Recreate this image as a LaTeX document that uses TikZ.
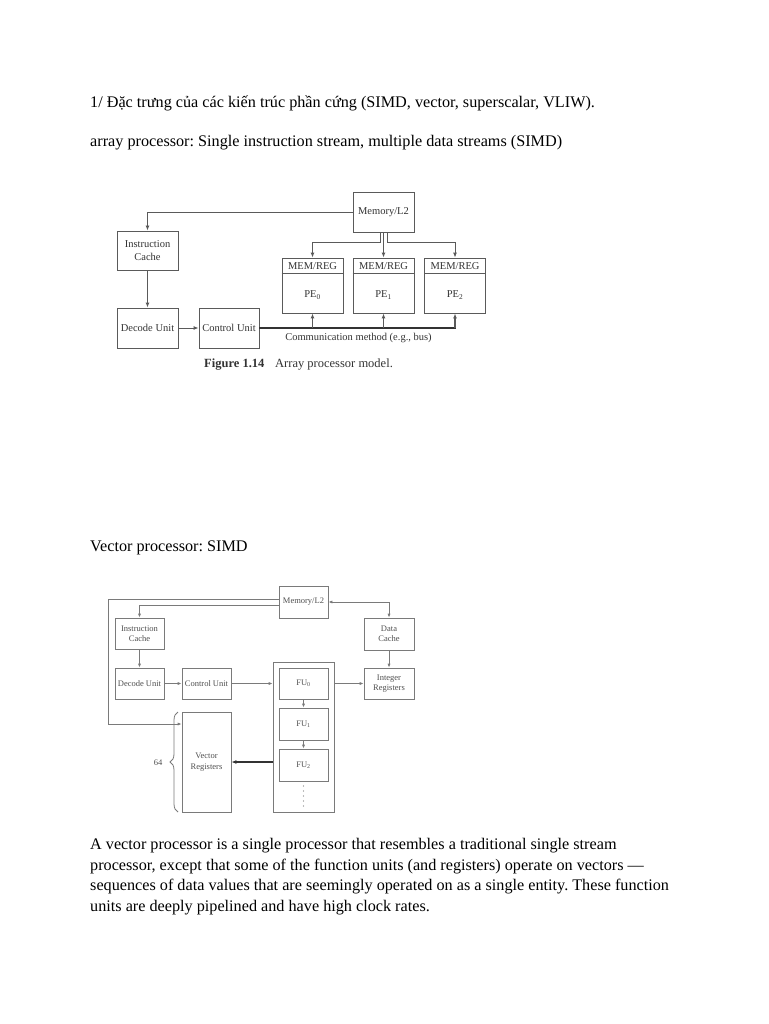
\documentclass[tikz,border=0pt]{standalone}
\usepackage{fontspec}
\setmainfont{Liberation Serif}
\usetikzlibrary{arrows.meta,decorations.pathreplacing,calc}
\newcommand\fsz[2]{\fontsize{#1}{#2}\selectfont}
\definecolor{linea}{HTML}{5A5A5A}
\definecolor{texta}{HTML}{333333}
\definecolor{lineb}{HTML}{7A7A7A}
\definecolor{textb}{HTML}{505050}
\tikzset{
  boxa/.style={draw=linea, line width=0.9pt, inner sep=0pt, align=center, font=\fsz{10.5}{13}, text=texta},
  boxb/.style={draw=lineb, line width=0.8pt, inner sep=0pt, align=center, font=\fsz{8.5}{10.5}, text=textb},
  arra/.style={draw=linea, line width=0.9pt, -{Latex[length=5pt,width=4pt]}},
  arrb/.style={draw=lineb, line width=0.8pt, -{Latex[length=4pt,width=3.2pt]}},
  arrbb/.style={draw=lineb, line width=0.8pt, {Latex[length=4pt,width=3.2pt]}-{Latex[length=4pt,width=3.2pt]}},
  lbla/.style={inner sep=0pt, font=\fsz{10.5}{13}, text=texta},
  lblb/.style={inner sep=0pt, font=\fsz{8.5}{10.5}, text=textb},
  body/.style={inner sep=0pt, anchor=base west, font=\fsz{16.2}{20}\frenchspacing, text=black},
}
\begin{document}
\begin{tikzpicture}[x=1pt,y=-1pt]
\useasboundingbox[fill=white] (0,0) rectangle (768,1024);

% ---- texts
\node[body] (t1) at (90,108) {1/ Đặc trưng của các kiến trúc phần cứng (SIMD, vector, superscalar, VLIW).};
\node[body] (t2) at (90,147) {array processor: Single instruction stream, multiple data streams (SIMD)};
\node[body] (t3) at (90,551) {Vector processor: SIMD};
\node[body] (p1) at (90,849.5) {A vector processor is a single processor that resembles a traditional single stream};
\node[body] (p2) at (90,870) {processor, except that some of the function units (and registers) operate on vectors —};
\node[body] (p3) at (90,890.5) {sequences of data values that are seemingly operated on as a single entity. These function};
\node[body] (p4) at (90,911) {units are deeply pipelined and have high clock rates.};

% ---- array processor figure
\node[boxa, minimum width=61pt, minimum height=40pt] (mem1) at (383.5,212) {Memory/L2};
\node[boxa, minimum width=61pt, minimum height=39pt] (ic1) at (147.5,250.5) {Instruction\\Cache};
\node[boxa, minimum width=61pt, minimum height=40pt] (du1) at (147.5,328) {Decode Unit};
\node[boxa, minimum width=60pt, minimum height=40pt] (cu1) at (229,328) {Control Unit};
\foreach \i/\x in {0/312.5,1/383.5,2/455}{
  \node[boxa, minimum width=61pt, minimum height=55pt] (pe\i) at (\x,285.5) {};
  \draw[draw=linea, line width=0.9pt] ($(pe\i.north west)+(0,16)$) -- ($(pe\i.north east)+(0,16)$);
  \node[lbla] (mr\i) at (\x,266) {MEM/REG};
  \node[lbla] (pl\i) at (\x,295) {PE\textsubscript{\i}};
}
\draw[arra] (mem1.west) -| (ic1.north);
\draw[arra] (ic1.south) -- (du1.north);
\draw[arra] (du1.east) -- (cu1.west);
\coordinate (busend) at (455.5,328);
\draw[draw=texta, line width=1.8pt] (cu1.east) -- (busend);
\foreach \i in {0,1,2}{
  \draw[arra, line width=1.2pt] (pe\i.south |- cu1.east) -- (pe\i.south);
}
\draw[arra] ($(mem1.south)+(-3.5,0)$) -- ++(0,10) -| (pe0.north);
\draw[arra] (mem1.south) -- (pe1.north);
\draw[arra] ($(mem1.south)+(3.5,0)$) -- ++(0,10) -| (pe2.north);
\node[lbla] (comm) at (358.5,338) {Communication method (e.g., bus)};
\node[inner sep=0pt, anchor=base west, font=\fsz{12.5}{14}\bfseries, text=texta] (fig) at (204,367) {Figure 1.14};
\node[inner sep=0pt, anchor=base west, font=\fsz{12.5}{14}, text=texta] (cap) at (275,367) {Array processor model.};

% ---- vector processor figure
\node[boxb, minimum width=49pt, minimum height=32pt] (mem2) at (303.5,602) {Memory/L2};
\node[boxb, minimum width=49pt, minimum height=31pt] (ic2) at (139.5,633.5) {Instruction\\Cache};
\node[boxb, minimum width=49pt, minimum height=31pt] (du2) at (139.5,683.5) {Decode Unit};
\node[boxb, minimum width=49pt, minimum height=31pt] (cu2) at (206.5,683.5) {Control Unit};
\node[boxb, minimum width=61pt, minimum height=150pt] (fuo) at (303.5,737) {};
\node[boxb, minimum width=49pt, minimum height=31pt] (fu0) at (303.5,683.5) {FU\textsubscript{0}};
\node[boxb, minimum width=49pt, minimum height=32pt] (fu1) at (303.5,724) {FU\textsubscript{1}};
\node[boxb, minimum width=49pt, minimum height=32pt] (fu2) at (303.5,765) {FU\textsubscript{2}};
\node[boxb, minimum width=50pt, minimum height=31pt] (ir2) at (389,683.5) {Integer\\Registers};
\node[boxb, minimum width=50pt, minimum height=32pt] (dc2) at (389,634) {Data\\Cache};
\node[boxb, minimum width=49pt, minimum height=100pt] (vr2) at (206.5,762) {Vector\\Registers};
\foreach \y in {786,791,796,801,806}{ \fill[lineb] (303.5,\y) circle (0.6pt); }

\draw[arrb] ($(mem2.west)+(0,3)$) -| (ic2.north);
\coordinate (vcorner) at (108,724);
\draw[arrb] ($(mem2.west)+(0,-3)$) -| (vcorner) -- (vcorner -| vr2.west);
\draw[arrb] (ic2.south) -- (du2.north);
\draw[arrb] (du2.east) -- (cu2.west);
\draw[arrb] (cu2.east) -- (cu2.east -| fuo.west);
\draw[arrb] (fu0.south) -- (fu1.north);
\draw[arrb] (fu1.south) -- (fu2.north);
\draw[arrb] (fuo.east |- ir2.west) -- (ir2.west);
\draw[arrb] (dc2.south) -- (ir2.north);
\draw[arrbb] (mem2.east) -| (dc2.north);
\draw[draw=texta, line width=1.2pt, -{Latex[length=5pt,width=4pt]}] (fuo.west |- vr2.east) -- (vr2.east);
\draw[draw=lineb, line width=0.8pt, decorate, decoration={brace, amplitude=8pt}] (178,812) -- (178,712);
\node[lblb] (n64) at (158,763) {64};
\end{tikzpicture}
\end{document}
